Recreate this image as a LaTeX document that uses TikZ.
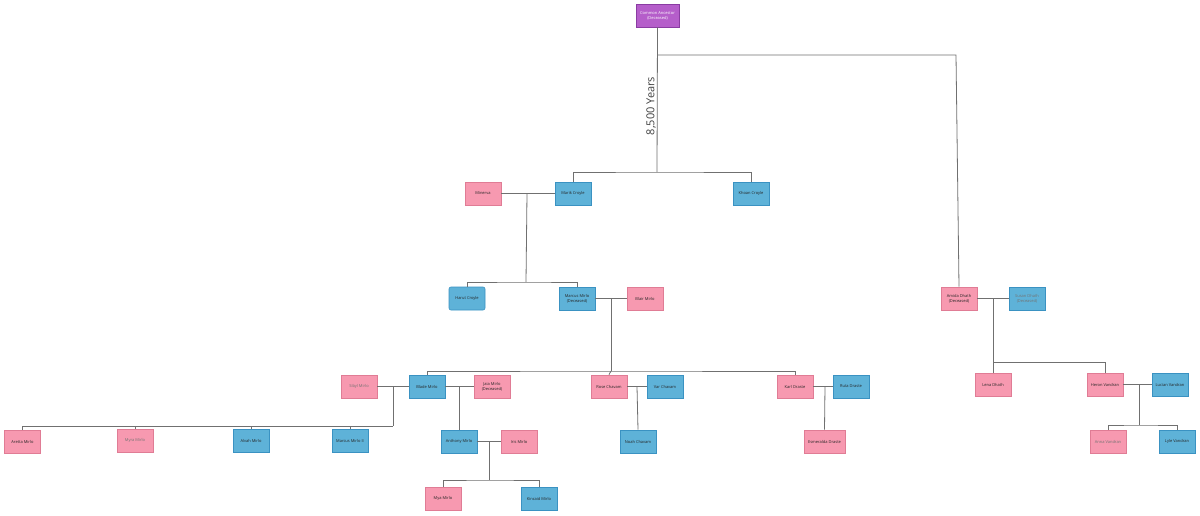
\documentclass[tikz,border=0pt]{standalone}
\usepackage{fontspec}
\setmainfont{Open Sans}
\begin{document}
\begin{tikzpicture}[x=1pt,y=-1pt,
  box/.style={draw, line width=0.6pt, minimum width=36pt, minimum height=23pt, inner sep=1pt, align=center, font=\fontsize{4}{5}\selectfont, text=black!85},
  f/.style={box, fill=pinkf, draw=pinkd},
  m/.style={box, fill=bluef, draw=blued},
  faint/.style={text=black!55},
  ln/.style={draw=linec, line width=0.8pt}]
\definecolor{pinkf}{HTML}{F799B0}
\definecolor{pinkd}{HTML}{E07C95}
\definecolor{bluef}{HTML}{5EB2D8}
\definecolor{blued}{HTML}{3A92C2}
\definecolor{purf}{HTML}{B55ECA}
\definecolor{purd}{HTML}{8A3CA2}
\definecolor{linec}{HTML}{707070}
\useasboundingbox (0,0) rectangle (1200,515);
\fill[white] (0,0) rectangle (1200,515);
% nodes
\node[box, fill=purf, draw=purd, text=white, minimum width=43pt] (ca) at (657.5,15.5) {Common Ancestor\\(Deceased)};
\node[f] (minerva) at (483,193.5) {Minerva};
\node[m] (marik) at (573,193.5) {Marik Croyle};
\node[m] (khoan) at (751,193.5) {Khoan Croyle};
\node[m, rounded corners=2pt] (harut) at (467,298.5) {Harut Croyle};
\node[m] (marcus) at (577,298.5) {Marcus Mirlo\\(Deceased)};
\node[f] (blair) at (645,298.5) {Blair Mirlo};
\node[f] (amida) at (959,298.5) {Amida Dhath\\(Deceased)};
\node[m, faint] (susan) at (1027,298.5) {Susan Dhath\\(Deceased)};
\node[f, faint] (sibyl) at (359,386.5) {Sibyl Mirlo};
\node[m] (blade) at (427,386.5) {Blade Mirlo};
\node[f] (jaia) at (492,386.5) {Jaia Mirlo\\(Deceased)};
\node[f] (rose) at (609,386.5) {Rose Chavam};
\node[m] (var) at (665,386.5) {Var Chavam};
\node[f] (karl) at (795,386.5) {Karl Draste};
\node[m] (ruta) at (851,386.5) {Ruta Draste};
\node[f] (lena) at (993,384.5) {Lena Dhath};
\node[f] (heron) at (1105,384.5) {Heron Vandran};
\node[m] (lucian) at (1170,384.5) {Lucian Vandran};
\node[f] (aretta) at (22.5,441.5) {Aretta Mirlo};
\node[f, faint] (myra) at (135,440.5) {Myra Mirlo};
\node[m] (alvah) at (251,440.5) {Alvah Mirlo};
\node[m] (marcus2) at (350,440.5) {Marcus Mirlo II};
\node[m] (anthony) at (459,441.5) {Anthony Mirlo};
\node[f] (iris) at (519,441.5) {Iris Mirlo};
\node[m] (noah) at (638,441.5) {Noah Chavam};
\node[f, minimum width=41pt] (esme) at (824.5,441.5) {Esmeralda Draste};
\node[f, faint] (anna) at (1108,441.5) {Anna Vandran};
\node[m] (lyle) at (1177,441.5) {Lyle Vandran};
\node[f] (mya) at (443,498.5) {Mya Mirlo};
\node[m] (kincaid) at (539,498.5) {Kincaid Mirlo};
% junction coordinates
\coordinate (j0) at (657,172);
\coordinate (jr) at (657,55);
\coordinate (jr2) at (956,55);
\coordinate (c1) at (527,193.5);
\coordinate (c1b) at (526,282);
\coordinate (c2) at (611,298.5);
\coordinate (c2b) at (611,371);
\coordinate (c3) at (393,386.5);
\coordinate (c3b) at (393,426);
\coordinate (c4) at (459,386.5);
\coordinate (c5) at (489,441.5);
\coordinate (c5b) at (489,480);
\coordinate (c6) at (637,386.5);
\coordinate (c7) at (825,386.5);
\coordinate (c8) at (993,298.5);
\coordinate (c8b) at (993,362);
\coordinate (c9) at (1139,384.5);
\coordinate (c9b) at (1139,425);
% connectors
\draw[ln] (ca.south) -- (j0);
\draw[ln] (marik.north) |- (j0) -| (khoan.north);
\node[font=\fontsize{11}{12}\selectfont, text=black!75, rotate=90, anchor=south, inner sep=1.5pt] (yrs) at (657.5,106) {8,500 Years};
\draw[ln] (jr) -- (jr2) -- (amida.north);
\draw[ln] (minerva.east) -- (marik.west);
\draw[ln] (c1) -- (c1b);
\draw[ln] (harut.north) |- (c1b) -| (marcus.north);
\draw[ln] (marcus.east) -- (blair.west);
\draw[ln] (c2) -- (c2b);
\draw[ln] (blade.north) |- (c2b) -| (karl.north);
\draw[ln] (c2b) -- (rose.north);
\draw[ln] (sibyl.east) -- (blade.west);
\draw[ln] (c3) -- (c3b);
\draw[ln] (aretta.north) |- (c3b);
\draw[ln] (myra.north) -- (myra.north |- c3b);
\draw[ln] (alvah.north) -- (alvah.north |- c3b);
\draw[ln] (marcus2.north) -- (marcus2.north |- c3b);
\draw[ln] (blade.east) -- (jaia.west);
\draw[ln] (c4) -- (anthony.north);
\draw[ln] (anthony.east) -- (iris.west);
\draw[ln] (c5) -- (c5b);
\draw[ln] (mya.north) |- (c5b) -| (kincaid.north);
\draw[ln] (rose.east) -- (var.west);
\draw[ln] (c6) -- (noah.north);
\draw[ln] (karl.east) -- (ruta.west);
\draw[ln] (c7) -- (esme.north);
\draw[ln] (amida.east) -- (susan.west);
\draw[ln] (c8) -- (lena.north);
\draw[ln] (c8b) -| (heron.north);
\draw[ln] (heron.east) -- (lucian.west);
\draw[ln] (c9) -- (c9b);
\draw[ln] (anna.north) |- (c9b) -| (lyle.north);
\end{tikzpicture}
\end{document}
